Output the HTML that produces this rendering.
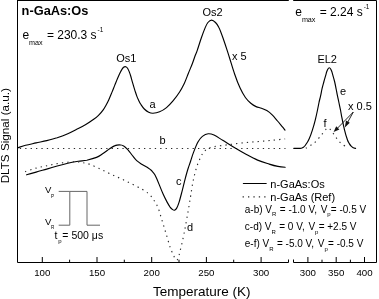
<!DOCTYPE html>
<html>
<head>
<meta charset="utf-8">
<title>DLTS n-GaAs:Os</title>
<style>
html,body{margin:0;padding:0;background:#fff;}
body{width:379px;height:299px;overflow:hidden;}
svg{display:block;}
text{font-family:"Liberation Sans",Arial,sans-serif;fill:#000;}
.ax{stroke:#000;stroke-width:1;fill:none;stroke-linecap:butt;stroke-linejoin:miter;}
.tk{stroke:#000;stroke-width:1;fill:none;}
.cv{stroke:#000;stroke-width:1.15;fill:none;stroke-linejoin:round;stroke-linecap:round;}
.dt{stroke:#2a2a2a;stroke-width:1.15;fill:none;stroke-dasharray:1.3 4.1;stroke-linejoin:round;}
.pl{stroke:#666;stroke-width:1;fill:none;}
</style>
</head>
<body>
<svg width="379" height="299" viewBox="0 0 379 299">
<rect x="0" y="0" width="379" height="299" fill="#fff"/>

<!-- frame: left panel -->
<path class="ax" d="M17.5,0 V262.5 H288.5 M17.5,0.5 H288.8 M288.5,262.5 V259.5"/>
<!-- frame: right panel -->
<path class="ax" d="M293.5,259.5 V262.5 H376.5 V0.5 H293.2"/>

<!-- ticks left panel -->
<path class="tk" d="M42.3,262.5 v-5.5 M97,262.5 v-5.5 M151.7,262.5 v-5.5 M206.4,262.5 v-5.5 M261.1,262.5 v-5.5 M69.6,262.5 v-2.8 M124.3,262.5 v-2.8 M179,262.5 v-2.8 M233.7,262.5 v-2.8"/>
<!-- ticks right panel -->
<path class="tk" d="M307.9,262.5 v-5.5 M336.2,262.5 v-5.5 M364.5,262.5 v-5.5 M322,262.5 v-2.8 M350.4,262.5 v-2.8"/>

<!-- tick labels -->
<g font-size="9.7" text-anchor="middle">
<text x="42.3" y="275.7">100</text>
<text x="97" y="275.7">150</text>
<text x="151.7" y="275.7">200</text>
<text x="206.4" y="275.7">250</text>
<text x="261.1" y="275.7">300</text>
<text x="307.9" y="275.7">300</text>
<text x="336.2" y="275.7">350</text>
<text x="364.5" y="275.7">400</text>
</g>
<text x="201.7" y="295.5" font-size="13.5" text-anchor="middle">Temperature (K)</text>
<text transform="translate(9.3,135.7) rotate(-90)" font-size="11.7" text-anchor="middle">DLTS Signal (a.u.)</text>

<!-- titles -->
<text x="21.6" y="15.4" font-size="12.8" font-weight="bold">n-GaAs:Os</text>
<text x="22.4" y="39.3" font-size="12">e<tspan font-size="7.2" dy="6">max</tspan><tspan dy="-6" dx="4.2">= 230.3 s</tspan><tspan font-size="6.5" dy="-7.3" dx="1">-1</tspan></text>
<text x="295.2" y="16.4" font-size="12">e<tspan font-size="7.2" dy="6">max</tspan><tspan dy="-6" dx="4.2">= 2.24 s</tspan><tspan font-size="6.5" dy="-7.3" dx="1">-1</tspan></text>

<!-- curve a -->
<path class="cv" d="M17.5,147.9 C18.9,147.5 22.5,146.1 25.6,145.3 C28.7,144.5 32.6,143.7 36.1,142.9 C39.6,142.1 43.2,141.5 46.7,140.6 C50.2,139.7 53.7,138.8 57.2,137.7 C60.7,136.5 64.3,135.2 67.8,133.7 C71.3,132.2 75.3,130.0 78.3,128.5 C81.3,127.0 83.2,126.0 85.8,124.5 C88.4,123.0 91.6,120.8 93.7,119.3 C95.8,117.8 96.9,116.9 98.5,115.3 C100.1,113.7 102.0,111.5 103.2,109.8 C104.5,108.1 105.1,106.8 106.0,105.2 C106.9,103.6 107.7,102.2 108.7,100.0 C109.7,97.8 111.0,94.5 112.0,92.1 C113.0,89.7 113.8,87.6 114.7,85.4 C115.6,83.2 116.5,80.8 117.4,78.7 C118.3,76.6 119.3,74.3 120.1,72.7 C120.9,71.1 121.5,70.0 122.1,69.1 C122.7,68.2 123.1,67.7 123.6,67.3 C124.1,66.9 124.6,66.6 125.1,66.6 C125.6,66.6 126.1,66.8 126.5,67.1 C126.9,67.4 127.3,67.8 127.7,68.5 C128.1,69.2 128.6,70.2 129.1,71.4 C129.6,72.7 130.1,74.0 130.7,76.0 C131.3,78.0 132.1,81.1 132.8,83.4 C133.5,85.8 134.1,88.0 134.8,90.1 C135.5,92.2 136.2,94.4 136.8,96.1 C137.4,97.8 137.8,98.6 138.5,100.0 C139.2,101.4 139.8,102.8 140.8,104.3 C141.8,105.8 143.0,107.7 144.3,109.0 C145.6,110.3 147.2,111.5 148.7,112.2 C150.1,112.9 151.2,113.3 153.0,113.2 C154.8,113.1 157.3,112.7 159.6,111.8 C161.8,110.9 164.3,109.4 166.5,107.6 C168.7,105.8 170.8,103.5 173.0,100.9 C175.2,98.3 177.8,94.8 179.6,92.0 C181.4,89.2 182.4,87.4 183.9,84.3 C185.4,81.2 186.9,77.0 188.3,73.5 C189.7,70.0 191.2,66.6 192.4,63.5 C193.6,60.4 194.6,57.1 195.4,55.0 C196.2,52.9 196.0,53.9 197.0,51.1 C198.0,48.3 199.9,42.0 201.3,38.0 C202.7,34.0 204.2,30.0 205.3,27.4 C206.4,24.8 206.9,23.7 207.9,22.5 C208.9,21.3 210.3,20.1 211.6,20.1 C212.9,20.1 214.3,21.3 215.5,22.5 C216.7,23.7 217.7,24.8 218.9,27.4 C220.2,30.0 221.6,34.0 223.0,38.0 C224.4,42.0 226.2,47.4 227.4,51.1 C228.6,54.8 229.0,56.1 230.2,60.0 C231.4,63.9 233.0,69.5 234.7,74.2 C236.3,78.9 238.3,84.2 240.1,88.1 C241.9,92.0 243.6,95.0 245.4,97.5 C247.2,100.0 249.0,101.8 250.8,103.3 C252.6,104.8 254.3,105.8 256.1,106.6 C257.9,107.4 259.7,107.6 261.5,108.3 C263.3,109.0 265.0,109.5 266.8,110.6 C268.6,111.7 270.4,113.1 272.2,114.8 C274.0,116.5 275.7,118.9 277.5,121.0 C279.3,123.1 281.6,125.9 282.9,127.4 C284.1,128.9 284.6,129.7 285.0,130.1"/>

<!-- curve b (dotted flat) -->
<path class="dt" d="M19.8,148.5 H285.5"/>

<!-- curve c -->
<path class="cv" d="M26.6,174.8 C28.2,174.4 32.8,173.1 36.1,172.1 C39.5,171.1 43.2,170.1 46.7,169.1 C50.2,168.1 53.7,167.0 57.2,166.0 C60.7,165.0 64.3,164.0 67.8,163.2 C71.3,162.4 75.1,161.8 78.3,161.3 C81.5,160.8 83.8,160.8 86.8,160.2 C89.8,159.5 93.8,158.5 96.5,157.4 C99.2,156.3 100.8,154.9 103.0,153.5 C105.2,152.1 107.6,150.0 109.6,148.7 C111.6,147.4 113.4,146.2 115.0,145.6 C116.6,144.9 117.8,144.8 119.3,144.8 C120.8,144.9 122.2,145.1 123.7,145.9 C125.2,146.7 126.5,148.2 128.0,149.8 C129.4,151.4 131.0,153.7 132.4,155.5 C133.8,157.3 135.1,159.1 136.7,160.6 C138.3,162.1 140.4,163.3 142.2,164.5 C144.0,165.7 146.0,166.6 147.6,167.6 C149.2,168.6 150.3,169.2 151.5,170.5 C152.7,171.8 153.8,172.8 155.0,175.1 C156.2,177.4 157.7,180.9 159.0,184.1 C160.3,187.3 161.8,191.1 163.1,194.1 C164.4,197.1 165.9,199.9 167.1,202.1 C168.3,204.3 169.2,205.8 170.1,207.1 C171.0,208.3 172.0,209.1 172.7,209.6 C173.4,210.1 173.8,210.4 174.5,210.2 C175.2,209.9 175.9,209.4 176.7,208.1 C177.5,206.8 178.2,204.9 179.1,202.1 C180.0,199.3 181.1,194.9 182.1,191.1 C183.1,187.3 184.1,182.9 185.1,179.1 C186.1,175.3 187.1,171.6 188.1,168.5 C189.1,165.4 189.9,163.3 190.8,160.5 C191.7,157.7 192.5,155.0 193.7,151.9 C194.9,148.8 196.6,144.4 198.1,141.8 C199.6,139.2 200.7,137.7 202.4,136.4 C204.1,135.1 206.3,134.0 208.2,133.8 C210.1,133.6 211.6,134.0 214.0,135.1 C216.4,136.2 219.3,138.2 222.7,140.3 C226.1,142.4 230.4,145.3 234.3,147.6 C238.2,149.9 242.1,152.2 246.0,154.3 C249.9,156.4 253.7,158.5 257.6,160.1 C261.5,161.7 265.8,163.0 269.2,164.1 C272.6,165.2 275.2,165.9 277.9,166.4 C280.5,166.9 283.9,167.2 285.1,167.3"/>

<!-- curve d (dotted) -->
<path class="dt" d="M25.1,171.7 C26.9,171.1 32.5,169.1 36.1,168.1 C39.7,167.1 43.2,166.6 46.7,165.8 C50.2,165.1 53.7,164.2 57.2,163.6 C60.7,163.0 64.6,162.5 67.8,162.2 C71.0,161.9 73.8,161.6 76.2,161.7 C78.7,161.8 80.2,162.1 82.5,162.6 C84.8,163.1 87.3,163.4 90.0,164.4 C92.7,165.4 95.8,167.0 98.7,168.3 C101.6,169.7 104.5,171.1 107.4,172.5 C110.3,173.9 113.2,175.2 116.1,176.5 C119.0,177.8 121.9,179.1 124.8,180.5 C127.7,181.9 130.6,183.3 133.5,184.8 C136.4,186.3 139.8,187.9 142.2,189.3 C144.6,190.7 146.4,191.9 148.0,193.2 C149.6,194.5 150.8,195.8 152.0,197.3 C153.2,198.8 154.0,200.4 155.0,202.1 C156.0,203.8 157.0,205.0 158.0,207.5 C159.0,210.0 160.0,213.7 161.0,217.0 C162.0,220.3 163.1,223.8 164.1,227.1 C165.1,230.4 166.1,233.8 167.1,237.1 C168.1,240.4 169.1,244.2 170.1,247.1 C171.1,250.0 172.3,252.8 173.1,254.6 C173.9,256.4 174.4,257.3 175.0,258.2 C175.6,259.1 176.1,260.0 176.6,260.0 C177.1,260.0 177.5,259.6 178.1,258.1 C178.7,256.6 179.3,254.4 180.1,251.1 C180.9,247.8 182.3,241.9 183.1,238.1 C183.9,234.3 184.4,231.6 185.1,228.1 C185.8,224.6 186.4,220.8 187.1,217.0 C187.8,213.2 188.5,209.2 189.1,205.5 C189.7,201.8 190.1,199.1 190.8,195.0 C191.5,190.9 192.2,185.4 193.1,181.1 C194.0,176.8 195.1,172.4 196.1,169.0 C197.1,165.6 198.1,163.0 199.2,160.5 C200.2,158.0 201.1,155.9 202.4,154.0 C203.7,152.1 204.9,150.4 206.8,149.2 C208.7,148.0 210.4,147.4 214.0,146.7 C217.6,145.9 223.7,145.3 228.5,144.7 C233.3,144.0 238.2,143.3 243.1,142.8 C247.9,142.3 252.8,142.0 257.6,141.6 C262.4,141.2 267.5,140.8 272.1,140.3 C276.7,139.9 282.9,139.1 285.1,138.9"/>

<!-- curve e -->
<path class="cv" d="M293.8,148.4 C294.5,148.4 296.8,148.4 298.0,148.4 C299.2,148.4 300.4,148.4 301.3,148.2 C302.2,148.0 302.8,147.8 303.4,147.3 C304.0,146.9 304.6,146.3 305.2,145.5 C305.8,144.7 306.5,143.6 307.2,142.5 C307.9,141.4 308.3,140.7 309.2,138.7 C310.1,136.7 311.3,133.5 312.3,130.3 C313.3,127.2 314.5,123.1 315.3,119.8 C316.1,116.5 316.8,113.5 317.4,110.5 C318.0,107.5 318.6,104.5 319.1,102.0 C319.7,99.5 320.2,97.6 320.7,95.4 C321.2,93.2 321.5,91.0 322.0,88.8 C322.5,86.6 323.2,84.2 323.8,82.0 C324.4,79.8 325.2,77.1 325.7,75.4 C326.2,73.7 326.3,72.8 326.7,71.8 C327.1,70.8 327.4,69.9 327.8,69.2 C328.2,68.5 328.8,67.7 329.3,67.7 C329.8,67.7 330.4,68.5 330.8,69.2 C331.2,69.9 331.5,70.8 331.9,71.8 C332.2,72.8 332.4,73.7 332.9,75.4 C333.4,77.1 334.2,79.8 334.7,82.0 C335.2,84.2 335.7,86.6 336.1,88.8 C336.6,91.0 336.9,93.2 337.4,95.4 C337.8,97.6 338.3,99.5 338.8,102.0 C339.3,104.5 340.1,107.9 340.6,110.5 C341.1,113.1 341.2,114.5 341.9,117.7 C342.5,120.9 343.6,126.1 344.5,129.8 C345.4,133.5 346.6,137.5 347.4,139.8 C348.2,142.1 348.7,142.5 349.3,143.6 C349.9,144.7 350.6,145.5 351.2,146.2 C351.8,146.9 352.5,147.3 353.2,147.7 C353.9,148.1 355.2,148.3 355.6,148.4"/>
<!-- curve f -->
<path class="dt" d="M305.8,148.3 C306.7,147.8 309.3,146.3 311.1,145.1 C312.9,143.9 314.6,142.7 316.4,140.9 C318.2,139.2 320.1,136.5 321.7,134.6 C323.3,132.7 324.8,130.4 325.9,129.3 C326.9,128.2 327.1,128.0 328.0,128.2 C328.9,128.4 330.0,128.9 331.2,130.3 C332.4,131.7 333.8,134.6 335.4,136.7 C337.0,138.8 338.8,141.2 340.7,143.0 C342.6,144.8 345.9,146.5 347.0,147.2"/>

<!-- arrows -->
<path d="M353.3,112 L336,129.7 M353.3,112 L347,123.5" stroke="#111" stroke-width="0.9" fill="none"/>
<path d="M333.6,132.1 L336.2,126.2 L339.4,129.4 Z M344.8,127.4 L346,120.6 L349.8,122.7 Z" fill="#111"/>

<!-- labels -->
<g font-size="11">
<text x="116.2" y="62.2">Os1</text>
<text x="202.5" y="16">Os2</text>
<text x="149.5" y="107.8">a</text>
<text x="159.5" y="143.5">b</text>
<text x="176" y="185">c</text>
<text x="187" y="231">d</text>
<text x="232" y="59.5">x 5</text>
<text x="317.4" y="63">EL2</text>
<text x="340" y="95">e</text>
<text x="323.5" y="127">f</text>
<text x="348" y="110.2">x 0.5</text>
</g>

<!-- pulse inset -->
<path class="pl" d="M58.7,225.2 H69.8 V191.4 H87 V225.2 H100 M58.7,191.4 H69.8"/>
<text x="45" y="193.4" font-size="9.6">V<tspan font-size="4.6" dy="4.2" dx="-0.5">P</tspan></text>
<text x="45" y="224.8" font-size="9.6">V<tspan font-size="4.6" dy="4.2" dx="-0.5">R</tspan></text>
<text x="54.5" y="239.3" font-size="10.5">t<tspan font-size="6" dy="3.3" dx="0.8">p</tspan><tspan dy="-3.3" dx="0.8">= 500 μs</tspan></text>

<!-- legend -->
<path class="cv" d="M243.4,183.5 H266.2"/>
<path class="dt" d="M242.6,196.8 H266"/>
<text x="270.3" y="187.5" font-size="11">n-GaAs:Os</text>
<text x="270.3" y="200.7" font-size="11">n-GaAs (Ref)</text>
<g font-size="10">
<text x="244.8" y="212.8">a-b) V<tspan font-size="6" dy="3.4">R</tspan><tspan dy="-3.4" dx="3.4">= -1.0 V,</tspan><tspan dx="3.7">V</tspan><tspan font-size="6" dy="3.6">p</tspan><tspan dy="-3.6" dx="0.2">= -0.5 V</tspan></text>
<text x="244.8" y="230.2">c-d) V<tspan font-size="6" dy="3.4">R</tspan><tspan dy="-3.4" dx="3.4">= 0 V,</tspan><tspan dx="3.7">V</tspan><tspan font-size="6" dy="3.6">p</tspan><tspan dy="-3.6" dx="0.2">= +2.5 V</tspan></text>
<text x="244.8" y="247.2">e-f) V<tspan font-size="6" dy="3.4">R</tspan><tspan dy="-3.4" dx="3.4">= -5.0 V,</tspan><tspan dx="3.7">V</tspan><tspan font-size="6" dy="3.6">p</tspan><tspan dy="-3.6" dx="0.2">= -0.5 V</tspan></text>
</g>
</svg>
</body>
</html>
